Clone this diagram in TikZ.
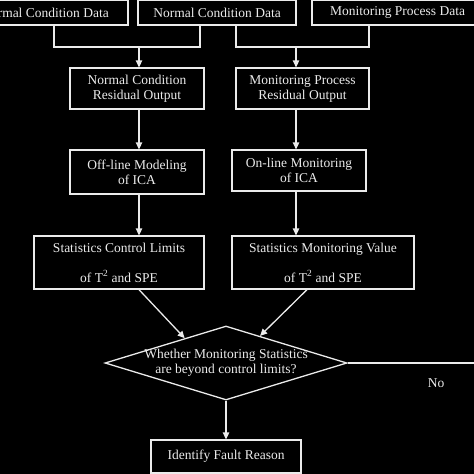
\documentclass[tikz,border=0pt]{standalone}
\usepackage{fontspec}
\setmainfont{Liberation Serif}
\usetikzlibrary{positioning,calc,shapes.geometric,arrows.meta}
\definecolor{fg}{gray}{0.92}
\tikzstyle{blk}=[draw=fg, text=fg, line width=1.3pt, inner sep=2pt, align=center, font=\fontsize{13.5}{15}\selectfont]
\tikzstyle{databox}=[blk, minimum height=24.5pt]
\tikzstyle{resbox}=[blk, minimum width=134pt, minimum height=41pt]
\tikzstyle{limbox}=[blk, minimum height=53pt]
\tikzstyle{decbox}=[diamond, draw=fg, line width=1.3pt, minimum width=242pt, minimum height=74pt, inner sep=0pt]
\tikzstyle{lbl}=[text=fg, align=center, font=\fontsize{13.5}{15}\selectfont]
\tikzstyle{wire}=[draw=fg, line width=1.3pt]

\begin{document}
\begin{tikzpicture}[node distance=2cm,auto,>={Triangle[width=6.5pt,length=7pt]}]
\path[use as bounding box, fill=black] (0,0) rectangle (474pt,-474pt);
\clip (0,0) rectangle (474pt,-474pt);

% data sources
\node[databox, minimum width=158pt] at (217pt,-12.75pt) (data2) {Normal Condition Data};
\node[databox, minimum width=166pt, left of = data2, node distance = 172pt] (data1) {Normal Condition Data};
\node[databox, minimum width=171pt, right of = data2, node distance = 180.5pt] (data3) {Monitoring Process Data};

\coordinate (j1) at (139pt,-47pt);
\coordinate (j2) at (296pt,-47pt);
\draw[wire] ([xshift=9pt]data1.south) |- (j1) -| ([xshift=-17pt]data2.south);
\draw[wire] ([xshift=19pt]data2.south) |- (j2) -| ([xshift=-28.5pt]data3.south);

% residuals
\node[resbox] at (137pt,-88.5pt) (res1) {Normal Condition\\Residual Output};
\node[resbox, minimum width=133pt, right of = res1, node distance = 165.5pt] (res2) {Monitoring Process\\Residual Output};
\draw[wire,->] (j1) -- (j1 |- res1.north);
\draw[wire,->] (j2) -- (j2 |- res2.north);

% ICA models
\node[resbox, minimum height=44pt, below of = res1, node distance = 83.5pt] (mod1) {Off-line Modeling\\of ICA};
\node[resbox] at (299pt,-170.5pt) (mod2) {On-line Monitoring\\of ICA};
\draw[wire,->] (res1.south -| j1) -- (mod1.north -| j1);
\draw[wire,->] (res2.south -| j2) -- (mod2.north -| j2);

% statistics
\node[limbox, minimum width=170pt] at (119pt,-262.5pt) (lim1) {Statistics Control Limits\\[15pt]of T\textsuperscript{2} and SPE};
\node[limbox, minimum width=182pt, right of = lim1, node distance = 204pt] (val2) {Statistics Monitoring Value\\[15pt]of T\textsuperscript{2} and SPE};
\draw[wire,->] (mod1.south -| j1) -- (lim1.north -| j1);
\draw[wire,->] (mod2.south -| j2) -- (val2.north -| j2);

% decision
\node[decbox] at (226pt,-363pt) (dia) {};
\node[lbl] at (dia) (diatext) {Whether Monitoring Statistics\\are beyond control limits?};
\draw[wire,->] (lim1.south -| j1) -- ($(dia.north)!0.34!(dia.west)$);
\draw[wire,->] ([xshift=-16pt]val2.south) -- ($(dia.north)!0.28!(dia.east)$);

\coordinate (noend) at (480pt,-363pt);
\draw[wire] (dia.east) -- (noend);
\node[lbl] at (436pt,-382.7pt) (no) {No};

\node[resbox, minimum width=150pt, minimum height=33pt, below of = dia, node distance = 93.5pt] (fault) {Identify Fault Reason};
\draw[wire,->] (dia.south) -- (fault.north -| dia.south);
\end{tikzpicture}
\end{document}
